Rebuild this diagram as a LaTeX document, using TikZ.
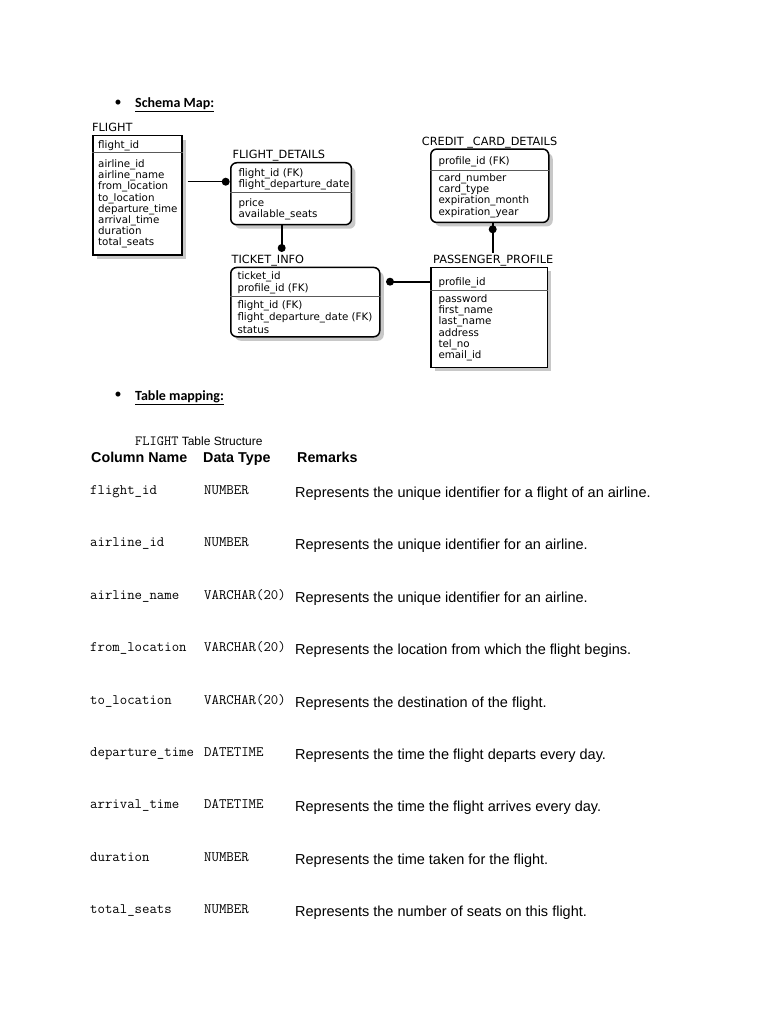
\documentclass[tikz,border=0pt]{standalone}
\usepackage{fontspec}
\usetikzlibrary{shadows}
\newfontfamily\erfont{DejaVu Sans}
\newfontfamily\docfont{Liberation Sans}
\newfontfamily\headfont{Carlito}

\tikzset{
	entity/.style={draw, line width=1.5pt, fill=white, inner sep=0pt, anchor=north west,
		drop shadow={shadow xshift=4pt, shadow yshift=-4pt, fill=black!30, opacity=.7}},
	rentity/.style={entity, rounded corners=6pt},
	ename/.style={font=\erfont\fontsize{11.3}{13}\selectfont, anchor=base west, inner sep=0pt},
	efield/.style={font=\erfont\fontsize{10.3}{11.3}\selectfont, align=left, anchor=north west, inner sep=0pt},
	esep/.style={line width=0.7pt, black!65},
	link/.style={line width=1.6pt},
	bullet/.style={font=\headfont\fontsize{14}{16}\selectfont, inner sep=0pt},
	heading/.style={font=\headfont\bfseries\fontsize{14}{16}\selectfont, anchor=base west, inner sep=0pt},
	colhead/.style={font=\docfont\bfseries\fontsize{14.3}{16}\selectfont, anchor=base west, inner sep=0pt},
	code/.style={font=\ttfamily\fontsize{14.4}{16}\selectfont, anchor=base west, inner sep=0pt},
	note/.style={font=\docfont\fontsize{14.5}{16}\selectfont, anchor=base west, inner sep=0pt}
}

\begin{document}
\begin{tikzpicture}[x=1pt, y=-1pt]
	\fill[white] (0,0) rectangle (768,1024);
	\useasboundingbox (0,0) rectangle (768,1024);

	\node[bullet] (b1) at (118,103) {•};
	\node[heading] (schema) at (135,108) {\underline{Schema Map:}};

	% FLIGHT
	\node[entity, minimum width=89pt, minimum height=119pt] (flight) at (92,135) {};
	\node[ename] (flightlbl) at (92,131.2) {FLIGHT};
	\node[efield] (flightkey) at (98,140.7) {flight\_id};
	\draw[esep] (flight.west |- 0,152.7) -- (flight.east |- 0,152.7);
	\node[efield, font=\erfont\fontsize{10.3}{11.2}\selectfont] (flightattr) at (98,159.4) {airline\_id\\airline\_name\\from\_location\\to\_location\\departure\_time\\arrival\_time\\duration\\total\_seats};

	% FLIGHT_DETAILS
	\node[rentity, minimum width=120.7pt, minimum height=62pt] (fdetails) at (230,162) {};
	\node[ename] (fdetailslbl) at (232.5,158.2) {FLIGHT\_DETAILS};
	\node[efield, font=\erfont\fontsize{10.3}{11}\selectfont] (fdetailskey) at (238.3,168) {flight\_id (FK)\\flight\_departure\_date};
	\draw[esep] (fdetails.west |- 0,192) -- (fdetails.east |- 0,192);
	\node[efield, font=\erfont\fontsize{10.3}{11}\selectfont] (fdetailsattr) at (238.3,198) {price\\available\_seats};

	% CREDIT_CARD_DETAILS
	\node[rentity, minimum width=118pt, minimum height=73.4pt] (ccard) at (430,148.3) {};
	\node[ename] (ccardlbl) at (421.7,145.2) {CREDIT \_CARD\_DETAILS};
	\node[efield] (ccardkey) at (438.3,156.7) {profile\_id (FK)};
	\draw[esep] (ccard.west |- 0,170) -- (ccard.east |- 0,170);
	\node[efield, font=\erfont\fontsize{10.3}{11.2}\selectfont] (ccardattr) at (438.3,173.4) {card\_number\\card\_type\\expiration\_month\\expiration\_year};

	% TICKET_INFO
	\node[rentity, minimum width=149pt, minimum height=69.3pt] (ticket) at (230,266.7) {};
	\node[ename] (ticketlbl) at (231.5,263.5) {TICKET\_INFO};
	\node[efield, font=\erfont\fontsize{10.3}{12.2}\selectfont] (ticketkey) at (237.3,271.7) {ticket\_id\\profile\_id (FK)};
	\draw[esep] (ticket.west |- 0,296.7) -- (ticket.east |- 0,296.7);
	\node[efield, font=\erfont\fontsize{10.3}{12.2}\selectfont] (ticketattr) at (237.3,300.7) {flight\_id (FK)\\flight\_departure\_date (FK)\\status};

	% PASSENGER_PROFILE
	\node[entity, minimum width=116.7pt, minimum height=100pt] (profile) at (430,266.7) {};
	\node[ename, inner ysep=1.5pt] (profilelbl) at (433,263.5) {PASSENGER\_PROFILE};
	\node[efield] (profilekey) at (438.3,277.4) {profile\_id};
	\draw[esep] (profile.west |- 0,290.7) -- (profile.east |- 0,290.7);
	\node[efield, font=\erfont\fontsize{10.3}{11.34}\selectfont] (profileattr) at (438.3,294) {password\\first\_name\\last\_name\\address\\tel\_no\\email\_id};

	% relationships
	\coordinate (fdot) at (225.7,181.7);
	\draw[link] ([xshift=5pt]flight.east |- fdot) -- (fdot);
	\fill (fdot) circle[radius=4pt];

	\coordinate (tdot) at (281.7,248);
	\draw[link] (fdetails.south -| tdot) -- (tdot);
	\fill (tdot) circle[radius=4pt];

	\coordinate (pdot) at (390,281.7);
	\draw[link] (pdot) -- (profile.west |- pdot);
	\fill (pdot) circle[radius=4pt];

	\coordinate (cdot) at (492.7,229.3);
	\draw[link] (ccard.south -| cdot) -- (cdot |- profilelbl.north);
	\fill (cdot) circle[radius=4pt];

	\node[bullet] (b2) at (118,395) {•};
	\node[heading] (mapping) at (135,400) {\underline{Table mapping:}};

	\node[font=\docfont\fontsize{12}{14}\selectfont, anchor=base west, inner sep=0pt] (caption) at (135,445) {{\ttfamily\fontsize{14}{14}\selectfont FLIGHT} Table Structure};
	\node[colhead] (hname) at (91,462) {Column Name};
	\node[colhead] (htype) at (203,462) {Data Type};
	\node[colhead] (hnote) at (297,462) {Remarks};

	\foreach \cname/\ctype/\cnote [count=\i from 0] in {
		flight\_id/NUMBER/Represents the unique identifier for a flight of an airline.,
		airline\_id/NUMBER/Represents the unique identifier for an airline.,
		airline\_name/VARCHAR(20)/Represents the unique identifier for an airline.,
		from\_location/VARCHAR(20)/Represents the location from which the flight begins.,
		to\_location/VARCHAR(20)/Represents the destination of the flight.,
		departure\_time/DATETIME/Represents the time the flight departs every day.,
		arrival\_time/DATETIME/Represents the time the flight arrives every day.,
		duration/NUMBER/Represents the time taken for the flight.,
		total\_seats/NUMBER/Represents the number of seats on this flight.}
	{
		\node[code] (cname\i) at (90,{494.5+52.375*\i}) {\cname};
		\node[code] (ctype\i) at (204,{494.5+52.375*\i}) {\ctype};
		\node[note] (cnote\i) at (295,{497.5+52.375*\i}) {\cnote};
	}
\end{tikzpicture}
\end{document}
